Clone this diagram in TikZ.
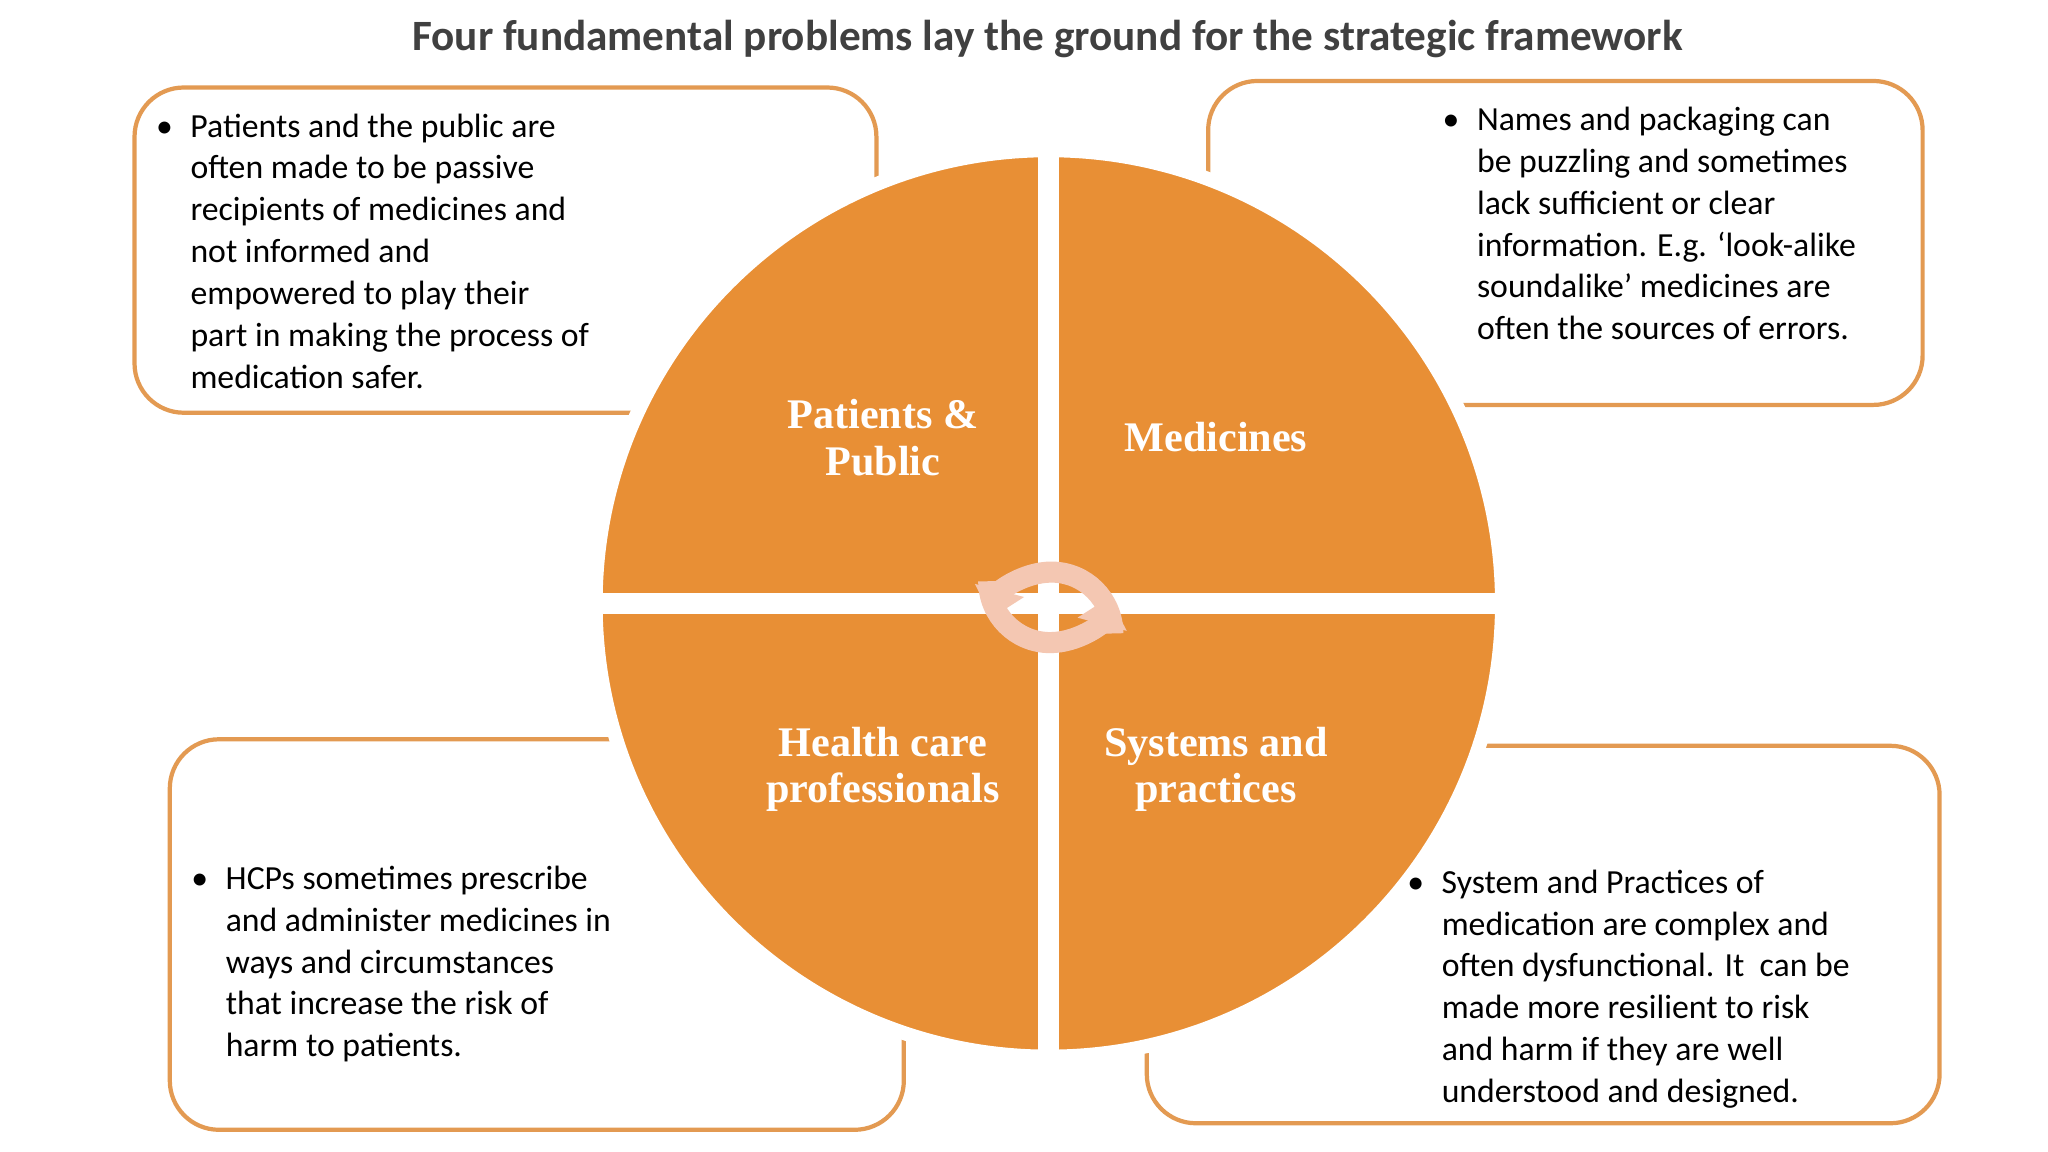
\documentclass[tikz,border=0pt]{standalone}
\usepackage{fontspec}
\setmainfont{Carlito}
\newfontfamily\serifb{Liberation Serif}
\usetikzlibrary{arrows.meta}
\definecolor{orng}{HTML}{E88F35}
\definecolor{bord}{HTML}{E39A52}
\definecolor{ttl}{HTML}{404040}
\definecolor{peach}{HTML}{F4C7B2}
\definecolor{peachd}{HTML}{E6A080}
\tikzset{
 box/.style={draw=bord,line width=1.2pt,rounded corners=14pt},
 body/.style={anchor=north west,inner sep=0pt,font=\fontsize{9.6pt}{11.9pt}\selectfont,text=black},
 qlab/.style={text=white,align=center,font=\serifb\bfseries\fontsize{12pt}{13.3pt}\selectfont},
 carrow/.style={line width=6pt,draw=peach,-{Triangle[length=8pt,width=14pt]}}
}
\newcommand{\bl}[1]{\begin{tabular}{@{}l@{\hspace{5pt}}l@{}}#1\end{tabular}}
\begin{document}
\begin{tikzpicture}[x=0.013061cm,y=-0.013061cm]
\useasboundingbox[fill=white] (0,0) rectangle (1568,882);
\node[text=ttl,font=\bfseries\fontsize{12.3pt}{14pt}\selectfont] (title) at (802,30) {Four fundamental problems lay the ground for the strategic framework};
\draw[box] (103,67) rectangle (671,316);
\draw[box] (925,62) rectangle (1472,310);
\draw[box] (130,566) rectangle (692,865);
\draw[box] (878,571) rectangle (1485,860);
\fill[orng,draw=white,line width=4pt] (803,462) circle (347);
\fill[white] (795,110) rectangle (811,815);
\fill[white] (450,454) rectangle (1156,470);
\node[qlab] (pp) at (676,335) {Patients \&\\Public};
\node[qlab] (md) at (931,335) {Medicines};
\node[qlab] (hc) at (676,589) {Health care\\professionals};
\node[qlab] (sp) at (931,589) {Systems and\\practices};
\draw[carrow] (757,445) arc (180:15:47);
\draw[carrow] (852,485) arc (0:-165:47);
\node[body] (t1) at (119,82) {\bl{\textbullet & Patients and the public are\\ & often made to be passive\\ & recipients of medicines and\\ & not informed and\\ & empowered to play their\\ & part in making the process of\\ & medication safer.}};
\node[body] (t2) at (1104,77) {\bl{\textbullet & Names and packaging can\\ & be puzzling and sometimes\\ & lack sufficient or clear\\ & information. E.g. ‘look-alike\\ & soundalike’ medicines are\\ & often the sources of errors.}};
\node[body] (t3) at (146,658) {\bl{\textbullet & HCPs sometimes prescribe\\ & and administer medicines in\\ & ways and circumstances\\ & that increase the risk of\\ & harm to patients.}};
\node[body] (t4) at (1077,661) {\bl{\textbullet & System and Practices of\\ & medication are complex and\\ & often dysfunctional. It\ \ can be\\ & made more resilient to risk\\ & and harm if they are well\\ & understood and designed.}};
\end{tikzpicture}
\end{document}
